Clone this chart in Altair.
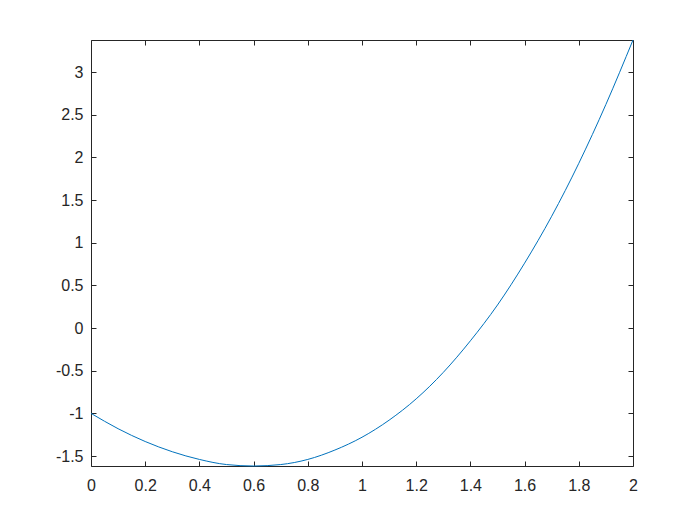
import altair as alt
import pandas as pd

# values
x_vals = [0.0, 0.1, 0.2, 0.3, 0.4, 0.5, 0.6, 0.7, 0.8, 0.9, 1.0,
          1.1, 1.2, 1.3, 1.4, 1.5, 1.6, 1.7, 1.8, 1.9, 2.0]
y_vals = [-1.00, -1.18, -1.33, -1.45, -1.54, -1.60, -1.617, -1.60, -1.54, -1.43, -1.28,
          -1.08, -0.83, -0.52, -0.15, 0.27, 0.76, 1.31, 1.93, 2.62, 3.375]

x_ticks = [0.0, 0.2, 0.4, 0.6, 0.8, 1.0, 1.2, 1.4, 1.6, 1.8, 2.0]
y_ticks = [-1.5, -1.0, -0.5, 0.0, 0.5, 1.0, 1.5, 2.0, 2.5, 3.0]

df = pd.DataFrame({"x": x_vals, "y": y_vals})

ink = "#262626"
label_expr = "'' + datum.value"

x_scale = alt.Scale(domain=[0, 2], nice=False, zero=False)
y_scale = alt.Scale(domain=[-1.617, 3.375], nice=False, zero=False)

def ax(orient, values, labels=True, pad=8):
    return alt.Axis(orient=orient, values=values, labels=labels, title=None,
                    domain=False, grid=False, offset=-5, tickSize=5,
                    tickColor=ink, tickWidth=1, labelColor=ink,
                    labelFont="Liberation Sans", labelFontSize=16,
                    labelFlush=False, labelOverlap=False,
                    labelPadding=pad, labelExpr=label_expr)

line = alt.Chart(df).mark_line(color="#0072BD", strokeWidth=1, interpolate="monotone").encode(
    x=alt.X("x:Q", scale=x_scale, axis=ax("bottom", x_ticks, pad=11)),
    y=alt.Y("y:Q", scale=y_scale, axis=ax("left", y_ticks, pad=8)),
)

frame = alt.Chart(df).mark_line(opacity=0).encode(
    x=alt.X("x:Q", scale=x_scale, axis=ax("top", x_ticks, labels=False)),
    y=alt.Y("y:Q", scale=y_scale, axis=ax("right", y_ticks, labels=False)),
)

chart = alt.layer(line, frame).resolve_axis(x="independent", y="independent").properties(
    width=542, height=426,
    autosize=alt.AutoSizeParams(type="none"),
    padding={"left": 83, "top": 32, "right": 59, "bottom": 51},
    background="white",
).configure_view(stroke=ink, strokeWidth=1)

chart.save("out.html", embed_options={"renderer": "svg", "actions": False})
